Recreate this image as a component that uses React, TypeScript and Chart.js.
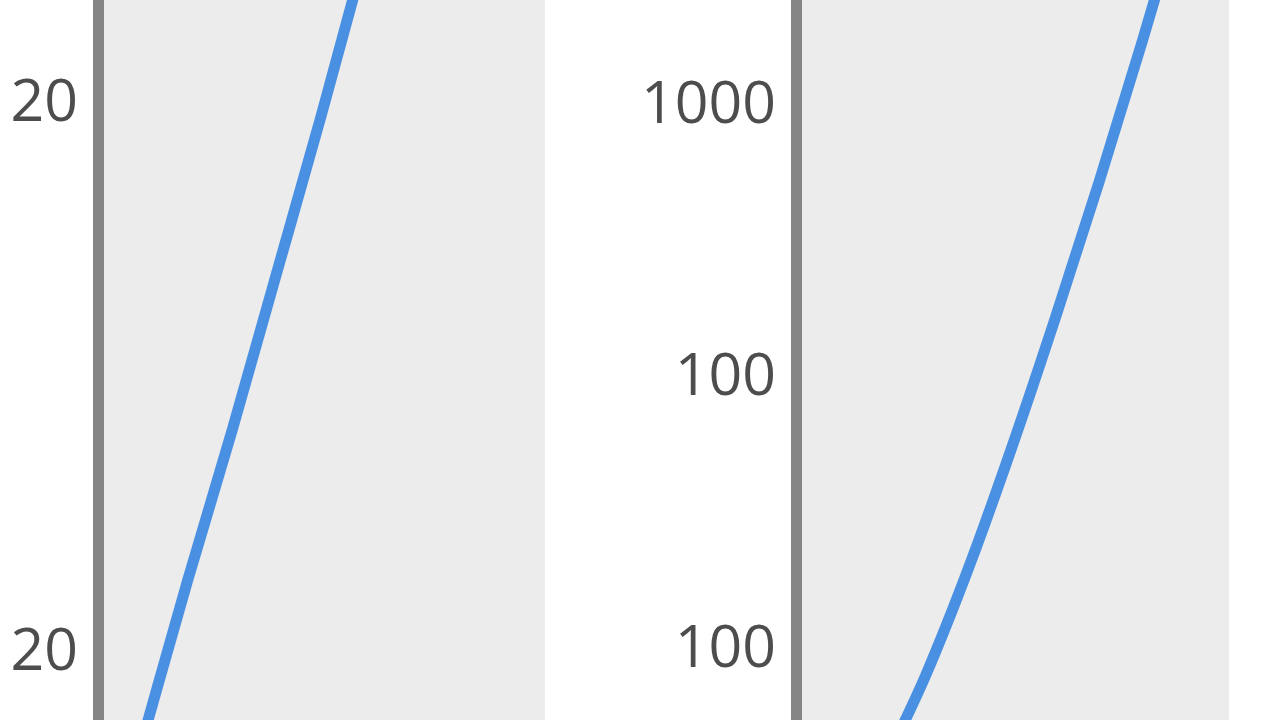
import React, { useEffect, useRef } from 'react';
import { Chart, registerables } from 'chart.js';

Chart.register(...registerables);

// left panel: linear axis, both ticks round to "20"
const leftX = [1, 2, 3, 4, 5, 6];
const leftY = [19.47, 19.7, 19.92, 20.15, 20.38, 20.62];
const leftTickValues = [19.6, 20.4];
const leftTickLabels = ['20', '20'];

// right panel: log axis
const rightX = [2, 3, 4, 5, 6, 7, 8, 9];
const rightY = [3.6, 7.9, 19.8, 55.1, 164, 513, 1690, 5900];
const rightTickValues = [10, 100, 1000];
const rightTickLabels = ['100', '100', '1000'];

const plotBackground = {
    id: 'plotBackground',
    beforeDraw(chart: Chart) {
        const { ctx, chartArea } = chart;
        ctx.save();
        ctx.fillStyle = '#ececec';
        ctx.fillRect(chartArea.left, chartArea.top, chartArea.right - chartArea.left, chartArea.bottom - chartArea.top);
        ctx.restore();
    }
};

type PanelProps = {
    xs: number[];
    ys: number[];
    tickValues: number[];
    tickLabels: string[];
    yType: 'linear' | 'logarithmic';
    yMin: number;
    yMax: number;
    axisWidth: number;
};

const Panel = ({ xs, ys, tickValues, tickLabels, yType, yMin, yMax, axisWidth }: PanelProps) => {
    const chartRef = useRef<HTMLCanvasElement>(null);
    const chartInstance = useRef<Chart | null>(null);

    useEffect(() => {
        if (!chartRef.current) return;
        const ctx = chartRef.current.getContext('2d');
        if (!ctx) return;
        if (chartInstance.current) chartInstance.current.destroy();

        chartInstance.current = new Chart(ctx, {
            type: 'line',
            data: {
                datasets: [
                    {
                        data: xs.map((x, i) => ({ x, y: ys[i] })),
                        borderColor: '#4a90e2',
                        borderWidth: 11,
                        pointRadius: 0,
                        cubicInterpolationMode: 'monotone',
                        fill: false
                    }
                ]
            },
            options: {
                animation: false,
                responsive: true,
                maintainAspectRatio: false,
                layout: { padding: 0 },
                plugins: {
                    legend: { display: false },
                    tooltip: { enabled: false }
                },
                scales: {
                    x: {
                        type: 'linear',
                        display: false,
                        min: 0,
                        max: 10
                    },
                    y: {
                        type: yType,
                        min: yMin,
                        max: yMax,
                        bounds: 'data',
                        grid: { display: false, drawTicks: false },
                        border: { display: true, color: '#858585', width: 11 },
                        afterBuildTicks: (scale: any) => {
                            scale.ticks = tickValues.map((v) => ({ value: v }));
                        },
                        afterFit: (scale: any) => {
                            scale.width = axisWidth;
                            scale.paddingTop = 0;
                            scale.paddingBottom = 0;
                        },
                        ticks: {
                            autoSkip: false,
                            padding: 20,
                            labelOffset: 3,
                            color: '#4d4d4d',
                            font: { family: 'Open Sans', size: 59 },
                            callback: (_v: any, i: number) => tickLabels[i]
                        }
                    }
                }
            },
            plugins: [plotBackground]
        });

        return () => {
            if (chartInstance.current) {
                chartInstance.current.destroy();
                chartInstance.current = null;
            }
        };
    }, []);

    return <canvas ref={chartRef}></canvas>;
};

const App = () => {
    return (
        <div style={{ position: 'fixed', left: 0, top: 0, width: 1280, height: 720, background: '#fff', overflow: 'hidden' }}>
            <div style={{ position: 'absolute', left: 0, top: 0, width: 545, height: 720 }}>
                <Panel
                    xs={leftX}
                    ys={leftY}
                    tickValues={leftTickValues}
                    tickLabels={leftTickLabels}
                    yType="linear"
                    yMin={19.498}
                    yMax={20.547}
                    axisWidth={98}
                />
            </div>
            <div style={{ position: 'absolute', left: 620, top: 0, width: 609, height: 720 }}>
                <Panel
                    xs={rightX}
                    ys={rightY}
                    tickValues={rightTickValues}
                    tickLabels={rightTickLabels}
                    yType="logarithmic"
                    yMin={5.39}
                    yMax={2391}
                    axisWidth={176}
                />
            </div>
        </div>
    );
};

export default App;
